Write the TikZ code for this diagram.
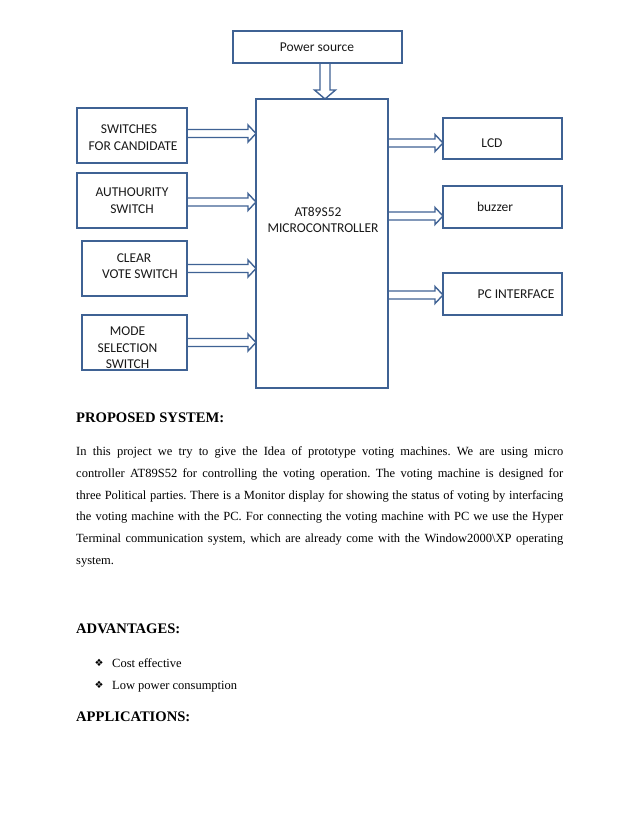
\documentclass[tikz,border=0pt]{standalone}
\usepackage{fontspec}
\setmainfont{Liberation Serif}
\newfontfamily\calib{Carlito}
\newfontfamily\djv{DejaVu Sans}
\usetikzlibrary{calc}
\definecolor{boxblue}{RGB}{63,98,148}
\frenchspacing
\tikzset{
  box/.style={draw=boxblue, line width=1.4pt, fill=white, inner sep=0pt, outer sep=0pt},
  lbl/.style={font=\calib\fontsize{13.5}{16.5}\selectfont, align=center, inner sep=0pt, text=black!90},
  body/.style={font=\frenchspacing\fontsize{12.5}{21.8}\selectfont, inner sep=0pt, anchor=base west, text=black},
  head/.style={font=\bfseries\fontsize{14.6}{18}\selectfont, inner sep=0pt, anchor=base west},
  arr/.style={draw=boxblue, line width=1.4pt, line join=miter},
  inarrow/.style={arr, to path={let \p1=(\tikztostart), \p2=(\tikztotarget) in
    (\x1,\y1+4pt) -- (\x2-8pt,\y1+4pt) -- (\x2-8pt,\y1+8.5pt) -- (\x2,\y1) -- (\x2-8pt,\y1-8.5pt) -- (\x2-8pt,\y1-4pt) -- (\x1,\y1-4pt)}},
  outarrow/.style={arr, to path={let \p1=(\tikztostart), \p2=(\tikztotarget) in
    (\x1,\y2+4pt) -- (\x2-8pt,\y2+4pt) -- (\x2-8pt,\y2+8.5pt) -- (\x2,\y2) -- (\x2-8pt,\y2-8.5pt) -- (\x2-8pt,\y2-4pt) -- (\x1,\y2-4pt)}},
  downarrow/.style={arr, to path={let \p1=(\tikztostart), \p2=(\tikztotarget) in
    (\x1-5pt,\y1) -- (\x1-5pt,\y2+9pt) -- (\x1-10.5pt,\y2+9pt) -- (\x1,\y2) -- (\x1+10.5pt,\y2+9pt) -- (\x1+5pt,\y2+9pt) -- (\x1+5pt,\y1)}},
}
\begin{document}
\begin{tikzpicture}[x=1pt,y=-1pt]
\path[use as bounding box, fill=white] (0,0) rectangle (638,826);

% boxes
\node[box, minimum width=169pt, minimum height=32pt] (ps) at (317.5,47) {};
\node[box, minimum width=132pt, minimum height=289pt] (mc) at (322,243.5) {};
\node[box, minimum width=110pt, minimum height=55pt] (sw) at (132,135.5) {};
\node[box, minimum width=110pt, minimum height=55pt] (au) at (132,200.5) {};
\node[box, minimum width=105pt, minimum height=55pt] (cl) at (134.5,268.5) {};
\node[box, minimum width=105pt, minimum height=55pt] (md) at (134.5,342.5) {};
\node[box, minimum width=119pt, minimum height=41pt] (lcd) at (502.5,138.5) {};
\node[box, minimum width=119pt, minimum height=42pt] (bz) at (502.5,207) {};
\node[box, minimum width=119pt, minimum height=42pt] (pc) at (502.5,294) {};

% labels
\node[lbl] (psT) at (317,47) {Power source};
\node[lbl] (mcT) at (323,220) {AT89S52\hspace*{10pt}\\MICROCONTROLLER};
\node[lbl] (swT) at (133,137.5) {SWITCHES\hspace*{8pt}\\FOR CANDIDATE};
\node[lbl] (auT) at (132,200.5) {AUTHOURITY\\SWITCH};
\node[lbl] (clT) at (140,266) {CLEAR\hspace*{12pt}\\VOTE SWITCH};
\node[lbl] (mdT) at (127.5,348) {MODE\\SELECTION\\SWITCH};
\node[lbl] (lcdT) at (492,143) {LCD};
\node[lbl] (bzT) at (495,207) {buzzer};
\node[lbl] (pcT) at (516,294) {PC INTERFACE};

% connectors
\draw[downarrow] ([xshift=7.5pt]ps.south) to (mc.north);
\draw[inarrow] ([yshift=2pt]sw.east) to (mc.west);
\draw[inarrow] ([yshift=-1.5pt]au.east) to (mc.west);
\draw[inarrow] ([yshift=0pt]cl.east) to (mc.west);
\draw[inarrow] ([yshift=0pt]md.east) to (mc.west);
\draw[outarrow] (mc.east) to ([yshift=-4.5pt]lcd.west);
\draw[outarrow] (mc.east) to ([yshift=-9pt]bz.west);
\draw[outarrow] (mc.east) to ([yshift=-1pt]pc.west);

% text
\node[head] (h1) at (76,422) {PROPOSED SYSTEM:};
\node[body] (p1) at (76,455) {\makebox[487pt][s]{In this project we try to give the Idea of prototype voting machines. We are using micro}};
\node[body] (p2) at (76,477) {\makebox[487pt][s]{controller AT89S52 for controlling the voting operation. The voting machine is designed for}};
\node[body] (p3) at (76,499) {\makebox[487pt][s]{three Political parties. There is a Monitor display for showing the status of voting by interfacing}};
\node[body] (p4) at (76,520.5) {\makebox[487pt][s]{the voting machine with the PC. For connecting the voting machine with PC we use the Hyper}};
\node[body] (p5) at (76,542.5) {\makebox[487pt][s]{Terminal communication system, which are already come with the Window2000\textbackslash XP operating}};
\node[body] (p6) at (76,564) {system.};

\node[head] (h2) at (76,633) {ADVANTAGES:};
\node[body, font=\djv\fontsize{10}{10}\selectfont] (b1) at (94.5,666.5) {❖};
\node[body] (t1) at (112,667) {Cost effective};
\node[body, font=\djv\fontsize{10}{10}\selectfont] (b2) at (94.5,688.5) {❖};
\node[body] (t2) at (112,689) {Low power consumption};
\node[head] (h3) at (76,721) {APPLICATIONS:};
\end{tikzpicture}
\end{document}
